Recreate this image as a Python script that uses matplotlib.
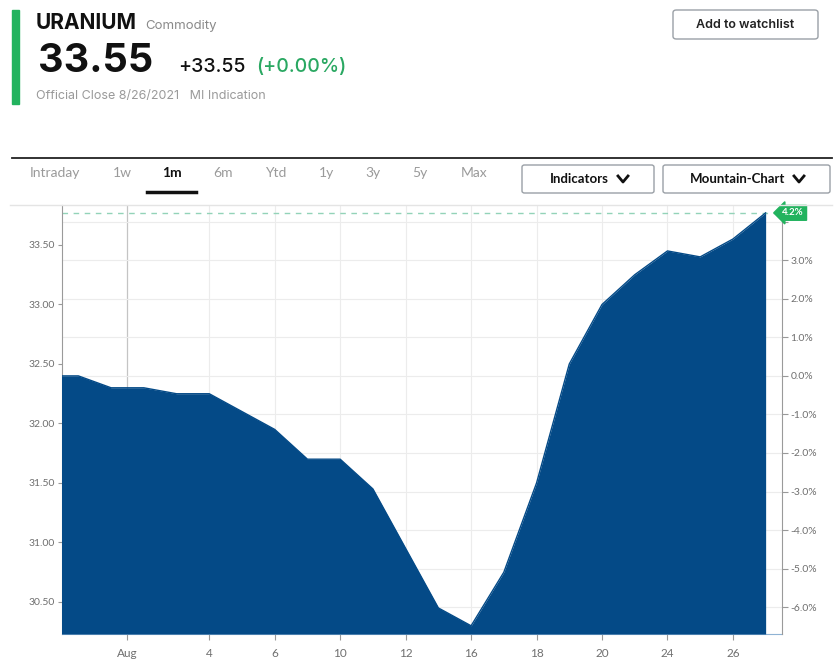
import numpy as np
import matplotlib.pyplot as plt
from matplotlib.patches import Rectangle, FancyBboxPatch
from matplotlib.lines import Line2D

# daily closes, Jul 28 is only visible as the flat stub at the left edge
dates = ["Jul 28", "Jul 29", "Jul 30", "Aug 2", "Aug 3", "Aug 4", "Aug 5", "Aug 6",
         "Aug 9", "Aug 10", "Aug 11", "Aug 12", "Aug 13", "Aug 16", "Aug 17",
         "Aug 18", "Aug 19", "Aug 20", "Aug 23", "Aug 24", "Aug 25", "Aug 26", "Aug 27"]
closes = [32.40, 32.40, 32.30, 32.30, 32.25, 32.25, 32.10, 31.95,
          31.70, 31.70, 31.45, 30.95, 30.45, 30.30, 30.75,
          31.50, 32.50, 33.00, 33.25, 33.45, 33.40, 33.55, 33.77]
tick_days = ["4", "6", "10", "12", "16", "18", "20", "24", "26"]
price_ticks = [30.50, 31.00, 31.50, 32.00, 32.50, 33.00, 33.50]
pct_ticks = [-6, -5, -4, -3, -2, -1, 0, 1, 2, 3, 4]
tabs = ["Intraday", "1w", "1m", "6m", "Ytd", "1y", "3y", "5y", "Max"]

W, H = 839, 671
BLUE = "#044a87"
GREEN = "#22b35e"
GRAY = "#6f6f6f"


def fx(px):
    return px / W


def fy(py):
    return 1 - py / H


fig = plt.figure(figsize=(W / 100, H / 100), dpi=100)
plt.rcParams['font.family'] = ['Lato', 'DejaVu Sans']
HEAD = ['Inter', 'DejaVu Sans']

# ---- header
fig.patches.append(Rectangle((fx(12), fy(104)), 7 / W, 94 / H, color=GREEN,
                             transform=fig.transFigure))
fig.text(fx(36), fy(29), "URANIUM", fontsize=15, fontweight='bold', color='#111',
         family=HEAD)
fig.text(fx(145), fy(29), "Commodity", fontsize=9.5, color='#8a8a8a', family=HEAD)
fig.text(fx(38), fy(72), "33.55", fontsize=28.5, fontweight='bold', color='#111',
         family=HEAD)
fig.text(fx(178), fy(72), "+33.55", fontsize=14, color='#111', fontweight='medium',
         family=HEAD)
fig.text(fx(256), fy(72), "(+0.00%)", fontsize=14, color='#2aa862', fontweight='medium',
         family=HEAD)
fig.text(fx(36), fy(99), "Official Close 8/26/2021   MI Indication", fontsize=9,
         color='#9a9a9a', family=HEAD)

fig.patches.append(FancyBboxPatch((fx(673), fy(39)), 145 / W, 29 / H,
                                  boxstyle="round,pad=0,rounding_size=0.004",
                                  transform=fig.transFigure, facecolor='white',
                                  edgecolor='#9aa0a6', lw=1))
fig.text(fx(745.5), fy(25), "Add to watchlist", fontsize=9, ha='center', va='center',
         color='#222', fontweight='semibold', family=HEAD)

# ---- tab bar
fig.add_artist(Line2D([fx(12), fx(832)], [fy(158), fy(158)], color='#222', lw=1.3))
tab_x = [55, 122, 172, 223, 276, 326, 373, 420, 474]
for name, tx in zip(tabs, tab_x):
    fig.text(fx(tx), fy(173), name, fontsize=10, ha='center', va='center',
             color='#111' if name == "1m" else '#9a9a9a',
             fontweight='bold' if name == "1m" else 'normal')
fig.add_artist(Line2D([fx(147), fx(196)], [fy(192), fy(192)], color='#111', lw=2.5))

for (x0, x1, label) in [(522, 654, "Indicators"), (663, 830, "Mountain-Chart")]:
    fig.patches.append(FancyBboxPatch((fx(x0), fy(193)), (x1 - x0) / W, 28 / H,
                                      boxstyle="round,pad=0,rounding_size=0.003",
                                      transform=fig.transFigure, facecolor='white',
                                      edgecolor='#9aa0a6', lw=1))
    cx = x1 - 31
    fig.text(fx(cx - 14), fy(179), label, fontsize=9.5, ha='right', va='center',
             color='#111', fontweight='bold')
    fig.add_artist(Line2D([fx(cx - 5), fx(cx), fx(cx + 5)],
                          [fy(176), fy(182), fy(176)], color='#111', lw=2))

fig.add_artist(Line2D([fx(10), fx(832)], [fy(205), fy(205)], color='#e4e4e4', lw=1))

# ---- chart
ax = fig.add_axes([fx(62), fy(634), (782 - 62) / W, (634 - 205) / H])
x = np.arange(len(dates))
y = np.array(closes)
lo, hi = 30.231, 33.836
ax.set_xlim(0.5, len(dates) - 0.5)
ax.set_ylim(lo, hi)

ax.fill_between(x, y, lo, color=BLUE, lw=0, zorder=3)
ax.plot(x, y, color=BLUE, lw=1, zorder=3)

# x ticks: month boundary + day numbers
aug_start = dates.index("Aug 2") - 0.5
day_pos = [dates.index("Aug " + d) for d in tick_days]
ax.set_xticks([aug_start] + day_pos)
ax.set_xticklabels(["Aug"] + tick_days)
for p in day_pos:
    ax.axvline(p, color='#ececec', lw=0.8, zorder=1)
ax.axvline(aug_start, color='#c4c4c4', lw=0.9, zorder=1)

ax.set_yticks(price_ticks)
ax.set_yticklabels([f"{v:.2f}" for v in price_ticks])
ax.tick_params(axis='y', length=3, color='#999', labelsize=7.5, labelcolor=GRAY, pad=2)
ax.tick_params(axis='x', length=4, color='#999', labelsize=8.5, labelcolor=GRAY, pad=6)

for s in ['top', 'right']:
    ax.spines[s].set_visible(False)
ax.spines['left'].set_color('#9a9a9a')
ax.spines['bottom'].set_color('#8fb3d4')

base = closes[1]
ax2 = ax.twinx()
ax2.set_ylim((lo / base - 1) * 100, (hi / base - 1) * 100)
ax2.set_yticks(pct_ticks)
ax2.set_yticklabels([f"{v:.1f}%" if v != 4 else "" for v in pct_ticks])
ax2.tick_params(axis='y', length=4, color='#999', labelsize=7.5, labelcolor=GRAY, pad=2)
for v in pct_ticks:
    ax.axhline(base * (1 + v / 100), color='#ececec', lw=0.8, zorder=1)
for s in ['top', 'left', 'bottom']:
    ax2.spines[s].set_visible(False)
ax2.spines['right'].set_color('#9a9a9a')

# last value marker
last = closes[-1]
ax.axhline(last, color='#93d3b8', lw=1, ls=(0, (4, 4)), zorder=2)
last_pct = (last / base - 1) * 100
ax2.text(x[-1] + 0.5, last_pct, f"{last_pct:.1f}%", fontsize=7, color='white',
         fontweight='bold', ha='left', va='center', zorder=5, clip_on=False,
         bbox=dict(boxstyle='larrow,pad=0.3', fc=GREEN, ec=GREEN))

fig.savefig("out.png", dpi=100)
